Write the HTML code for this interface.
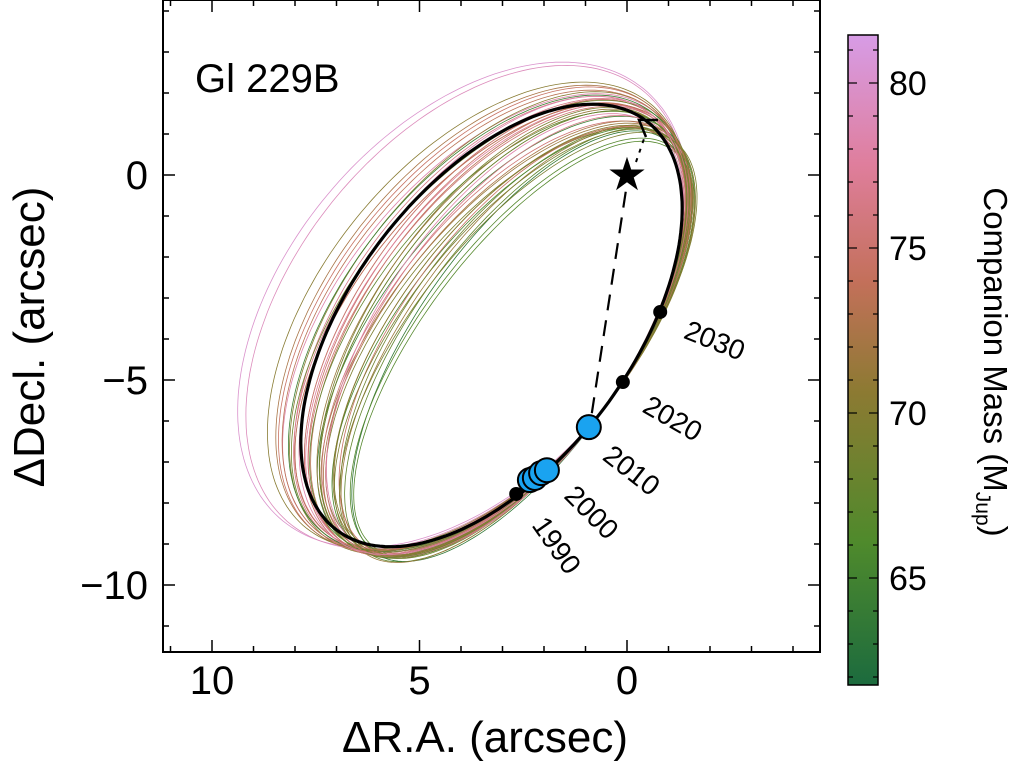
<!DOCTYPE html>
<html><head><meta charset="utf-8"><style>
body{margin:0;background:#fff;}
svg text{font-family:"Liberation Sans",Arial,sans-serif;}
</style></head><body>
<svg id="chart" width="1020" height="772" viewBox="0 0 1020 772" xmlns="http://www.w3.org/2000/svg">
<defs>
<linearGradient id="cmap" x1="0" y1="1" x2="0" y2="0">
<stop offset="0" stop-color="#1c6b3e"/>
<stop offset="0.22" stop-color="#4f8a2c"/>
<stop offset="0.45" stop-color="#8c7a32"/>
<stop offset="0.62" stop-color="#c3705a"/>
<stop offset="0.8" stop-color="#df7e9c"/>
<stop offset="1" stop-color="#d79ce6"/>
</linearGradient>
<clipPath id="plotclip"><rect x="163" y="0" width="657" height="652"/></clipPath>
</defs>
<g id="orbits" clip-path="url(#plotclip)"></g>
<g id="marks"></g>
<rect x="163" y="0" width="657" height="652" fill="none" stroke="#000" stroke-width="2"/>
<g id="axes"></g>
<text x="195" y="92" font-size="40">Gl 229B</text>
<text x="485" y="752" font-size="44" text-anchor="middle">ΔR.A. (arcsec)</text>
<text transform="translate(44,337) rotate(-90)" font-size="44" text-anchor="middle">ΔDecl. (arcsec)</text>
<rect x="848" y="35" width="30" height="650" fill="url(#cmap)" stroke="#000" stroke-width="1.5"/>
<g id="cbaxis"></g>
<text transform="translate(984,362) rotate(90)" font-size="33" text-anchor="middle">Companion Mass (M<tspan font-size="21" dy="8">Jup</tspan><tspan dy="-8">)</tspan></text>
</svg>
<script>
const xTicks=[10,5,0];
const yTicks=[0,-5,-10];
const cbTicks=[65,70,75,80];
const mainOrbit=[3.265,-3.67,6.23,3.38];
const orbitMass=[64,72,78,70,67,76,69,74,80,66,71,73,68,77,75,63,70,79,72,65,74,69,76,71,67,73,78,70,66,75,72,68,74,77,69,71,64,76,73,70,72,67,75,69,78];
const orbitDb=[-0.4,-0.1,0.15,-0.6,-0.8,0.0,-0.3,0.25,0.85,-0.95,-0.5,-0.2,-0.7,-0.05,-0.45,-0.85,0.1,0.75,-0.35,-0.65,-0.15,-0.55,0.05,-0.75,-0.25,0.2,-0.4,0.4,-0.9,-0.1,-0.5,0.0,-0.65,-0.15,-0.8,-0.3,0.1,-0.45,-0.05,-0.6,0.3,-0.35,-0.2,-0.7,0.0];
const orbitDa=[0.1,0.2,0.3,-0.1,0.0,0.25,0.1,0.35,0.6,-0.2,0.05,0.15,-0.05,0.2,0.0,-0.1,0.3,0.55,0.1,0.0,0.15,-0.05,0.2,0.05,0.1,0.3,0.0,0.4,-0.15,0.2,0.05,0.25,-0.1,0.15,0.0,0.1,0.25,0.05,0.2,-0.05,0.35,0.1,0.15,0.0,0.2];
const orbitDang=[1,-1,2,0,-1,1,-2,1,3,0,2,-1,-1,2,1,-2,0,2,-1,1,-1,2,0,-1,1,1,-2,2,0,-1,1,2,-1,0,1,-1,1,-1,2,0,1,-1,0,1,-1];
const dataX=[0.92,1.93,2.07,2.22,2.34];
const dataY=[-6.15,-7.2,-7.27,-7.39,-7.44];
const yearLabels=["1990","2000","2010","2020","2030"];
const yearDotX=[2.67,0.1,-0.8];
const yearDotY=[-7.78,-5.05,-3.34];

const NS="http://www.w3.org/2000/svg";
const X=v=>627-41.5*v, Y=v=>175-41*v, CB=m=>83+(80-m)*33;
function mk(tag,attrs,parent){const e=document.createElementNS(NS,tag);for(const k in attrs)e.setAttribute(k,attrs[k]);parent.appendChild(e);return e;}
function cmap(m){const stops=[[61.2,[28,107,62]],[65.5,[79,138,44]],[70.3,[140,122,50]],[73.5,[195,112,90]],[77.2,[223,126,156]],[81.5,[215,156,230]]];
for(let i=0;i<stops.length-1;i++){const [a,ca]=stops[i],[b,cb]=stops[i+1];if(m<=b||i==stops.length-2){const t=Math.max(0,Math.min(1,(m-a)/(b-a)));return `rgb(${ca.map((c,j)=>Math.round(c+(cb[j]-c)*t)).join(',')})`;}}}
const BASE=Math.atan2(1.352,-1);
function ellipsePath(cx,cy,a,b,angOff){
 const base=BASE+angOff*Math.PI/180;
 const dx=Math.cos(base),dy=Math.sin(base),px=-dy,py=dx;let d="";
 for(let i=0;i<=200;i++){const t=i/200*2*Math.PI;const x=cx+a*Math.cos(t)*dx+b*Math.sin(t)*px,y=cy+a*Math.cos(t)*dy+b*Math.sin(t)*py;
 d+=(i?"L":"M")+X(x).toFixed(1)+","+Y(y).toFixed(1);}return d+"Z";}
const og=document.getElementById('orbits');
const perpX=Math.sin(BASE), perpY=-Math.cos(BASE);
orbitMass.forEach((m,i)=>{
 const db=orbitDb[i],da=orbitDa[i];
 const cx=mainOrbit[0]+db*Math.abs(perpX),cy=mainOrbit[1]+db*Math.abs(perpY);
 const p=mk('path',{d:ellipsePath(cx,cy,mainOrbit[2]+da,mainOrbit[3]+db,orbitDang[i]),fill:'none',stroke:cmap(m),'stroke-width':0.8},og);
 
 
});
const mg=document.getElementById('marks');
let p=mk('path',{d:ellipsePath(mainOrbit[0],mainOrbit[1],mainOrbit[2],mainOrbit[3],0),fill:'none',stroke:'#000','stroke-width':3.2},mg);


p=mk('line',{x1:X(dataX[0])+3,y1:Y(dataY[0])-14,x2:626,y2:190,stroke:'#000','stroke-width':2.2,'stroke-dasharray':'16,10'},mg);


p=mk('path',{d:'M636,162 L645,136',fill:'none',stroke:'#000','stroke-width':2,'stroke-dasharray':'4,6'},mg);


p=mk('path',{d:'M658,120 L639,120 L646,137',fill:'none',stroke:'#000','stroke-width':2.5},mg);


p=mk('text',{x:X(0),y:Y(0)+15,'font-size':46,'text-anchor':'middle'},mg);p.textContent='★';


yearDotX.forEach((v,i)=>{const c=mk('circle',{cx:X(v),cy:Y(yearDotY[i]),r:7,fill:'#000'},mg);
 
 });
for(let i=dataX.length-1;i>=0;i--){const c=mk('circle',{cx:X(dataX[i]),cy:Y(dataY[i]),r:12,fill:'#1aa3f0',stroke:'#000','stroke-width':2},mg);
 
 }
const lblPos=[[557,545,55],[592,512,45],[632,470,38],[673,418,30],[715,340,22]];
yearLabels.forEach((t,i)=>{const [x,y,r]=lblPos[i];const e=mk('text',{x:x,y:y+10,'font-size':28,'text-anchor':'middle',transform:`rotate(${r},${x},${y})`},mg);e.textContent=t;
 
 });
const ag=document.getElementById('axes');
for(let v=-4;v<=11;v++){const maj=v%5==0,L=maj?12:6;
 mk('line',{x1:X(v),x2:X(v),y1:652,y2:652-L,stroke:'#000','stroke-width':1.5},ag);
 mk('line',{x1:X(v),x2:X(v),y1:0,y2:L,stroke:'#000','stroke-width':1.5},ag);}
for(let v=-11;v<=4;v++){const maj=v%5==0,L=maj?12:6;
 mk('line',{x1:163,x2:163+L,y1:Y(v),y2:Y(v),stroke:'#000','stroke-width':1.5},ag);
 mk('line',{x1:820,x2:820-L,y1:Y(v),y2:Y(v),stroke:'#000','stroke-width':1.5},ag);}
xTicks.forEach(v=>{const e=mk('text',{x:X(v),y:694,'font-size':40,'text-anchor':'middle'},ag);e.textContent=v;
 
 });
yTicks.forEach(v=>{const e=mk('text',{x:148,y:Y(v)+14,'font-size':40,'text-anchor':'end'},ag);e.textContent=v<0?'−'+(-v):v;
 
 });
const cg=document.getElementById('cbaxis');
for(let m=62;m<=81;m++){const L=m%5==0?9:5;
 mk('line',{x1:848,x2:848+L,y1:CB(m),y2:CB(m),stroke:'#000','stroke-width':1.2},cg);
 mk('line',{x1:878,x2:878-L,y1:CB(m),y2:CB(m),stroke:'#000','stroke-width':1.2},cg);}
cbTicks.forEach(m=>{const e=mk('text',{x:889,y:CB(m)+12,'font-size':34},cg);e.textContent=m;
 
 });
</script>
</body></html>
